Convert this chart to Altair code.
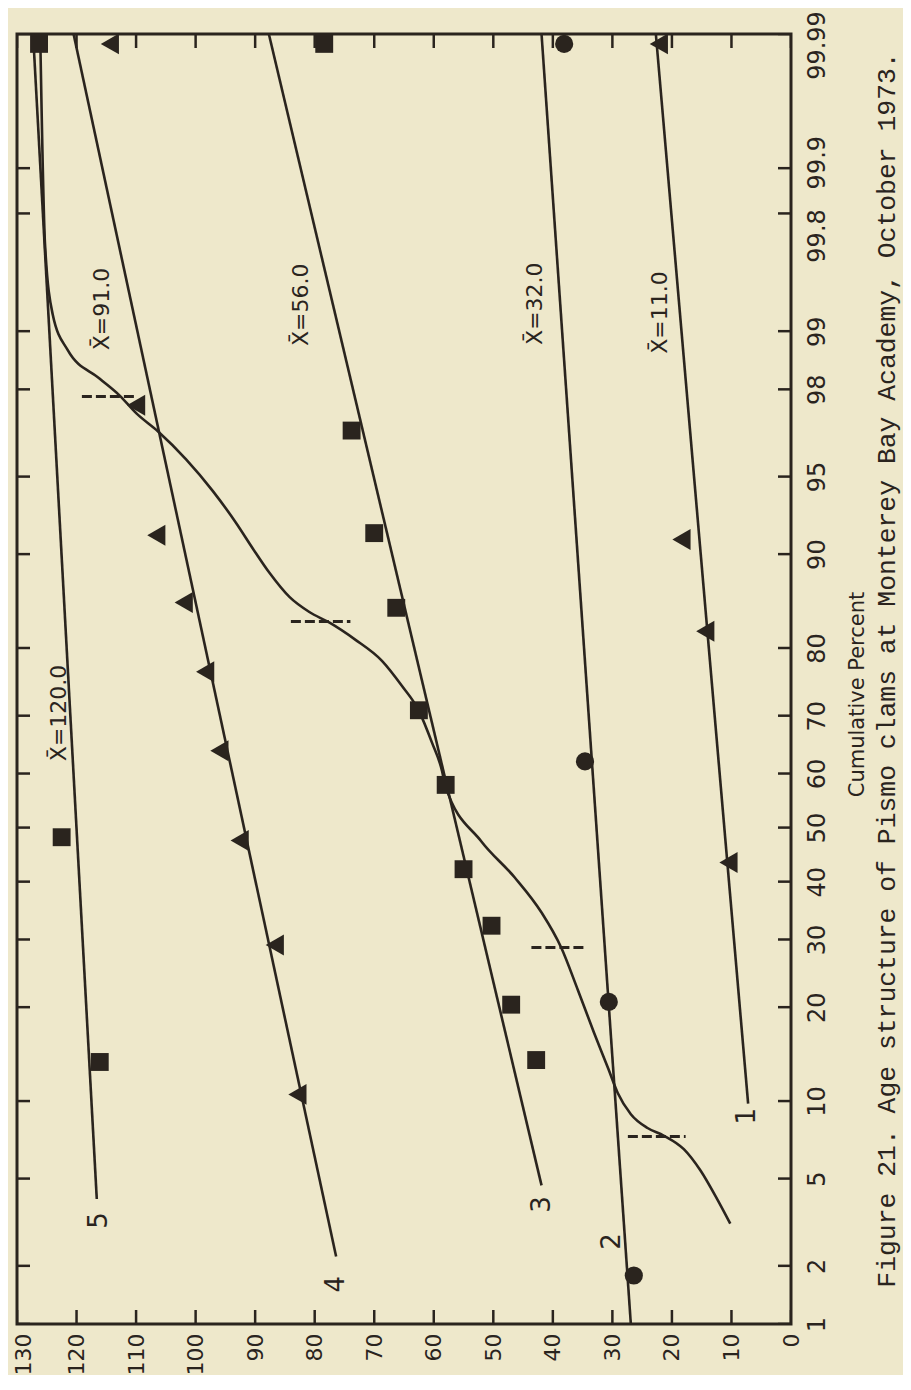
import altair as alt
import pandas as pd
from statistics import NormalDist

ND = NormalDist()


def probit(p):
    return ND.inv_cdf(p / 100.0)


INK = "#2a241e"
PAPER = "#eee8cb"

# ---------------- axis tick values ----------------
LENGTH_TICKS = [0, 10, 20, 30, 40, 50, 60, 70, 80, 90, 100, 110, 120, 130]
PERCENT_TICKS = [1, 2, 5, 10, 20, 30, 40, 50, 60, 70, 80, 90, 95, 98, 99, 99.8, 99.9, 99.99]

# ---------------- observed points per age class ----------------
C1_LEN = [22.2, 18.4, 14.4, 10.5]
C1_PCT = [99.988, 91.15, 82.12, 43.5]
C2_LEN = [38.1, 34.6, 30.6, 26.4]
C2_PCT = [99.988, 62.17, 20.7, 1.79]
C3_LEN = [78.4, 73.8, 70.0, 66.3, 62.5, 58.0, 55.0, 50.3, 47.0, 42.8]
C3_PCT = [99.988, 96.86, 91.62, 84.85, 70.88, 57.93, 42.27, 32.28, 20.33, 13.8]
C4_LEN = [114.4, 110.0, 106.6, 102.0, 98.4, 96.0, 92.6, 86.7, 82.9]
C4_PCT = [99.988, 97.61, 91.47, 85.43, 76.73, 64.06, 47.6, 29.12, 10.56]
C5_LEN = [126.3, 122.5, 116.1]
C5_PCT = [99.988, 48.2, 13.6]

# ---------------- fitted straight lines (two ends each) ----------------
FIT_CLASS = ["1", "1", "2", "2", "3", "3", "4", "4", "5", "5"]
FIT_LEN = [22.7, 7.2, 41.9, 26.9, 87.7, 41.9, 120.5, 76.4, 127.3, 116.6]
FIT_PCT = [99.99, 9.79, 99.99, 1.0, 99.99, 4.68, 99.99, 2.22, 99.99, 4.09]

# ---------------- overall cumulative curve ----------------
CURVE_LEN = [126.1, 125.3, 124.0, 121.5, 116.1, 112.8, 109.9, 106.3, 101.6, 97.1,
             93.2, 90.4, 87.6, 84.2, 80.9, 77.5, 73.2, 68.7, 65.3, 62.5,
             60.3, 58.6, 58.1, 52.0, 46.4, 41.9, 38.6, 35.8, 33.1, 30.7,
             29.1, 26.9, 24.1, 21.4, 18.0, 15.2, 12.4, 10.2]
CURVE_PCT = [99.99, 99.69, 99.19, 98.74, 98.23, 97.86, 97.38, 96.83, 95.78, 94.26,
             92.33, 90.46, 88.38, 85.99, 84.38, 83.15, 81.08, 78.27, 74.60, 70.79,
             65.47, 60.41, 57.89, 47.41, 40.75, 34.53, 28.70, 22.33, 16.85, 12.94,
             10.68, 8.96, 7.96, 7.45, 6.59, 5.40, 4.08, 3.17]

# ---------------- dashed separation marks ----------------
DASH_LEN1 = [119.1, 84.0, 43.6, 27.4]
DASH_LEN2 = [110.3, 74.0, 34.4, 17.7]
DASH_PCT = [97.83, 83.3, 28.7, 7.39]

# ---------------- labels ----------------
MEAN_TEXT = ["X\u0304=11.0", "X\u0304=32.0", "X\u0304=56.0", "X\u0304=91.0", "X\u0304=120.0"]
MEAN_LEN = [20.9, 41.8, 81.2, 114.6, 121.8]
MEAN_PCT = [99.21, 99.296, 99.286, 99.245, 70.45]

NUM_TEXT = ["1", "2", "3", "4", "5"]
NUM_LEN = [7.35, 30.1, 41.9, 76.5, 116.3]
NUM_PCT = [8.80, 2.62, 3.87, 1.62, 3.28]

CAPTION = "Figure 21. Age structure of Pismo clams at Monterey Bay Academy, October 1973."

# ---------------- tables ----------------
rows = []
for cls, lens, pcts, shape, size in [
    ("1", C1_LEN, C1_PCT, "triangle-left", 440),
    ("2", C2_LEN, C2_PCT, "circle", 330),
    ("3", C3_LEN, C3_PCT, "square", 320),
    ("4", C4_LEN, C4_PCT, "triangle-left", 440),
    ("5", C5_LEN, C5_PCT, "square", 320),
]:
    for l, p in zip(lens, pcts):
        rows.append({"cls": cls, "L": l, "pct": p, "z": probit(p), "shape": shape, "size": size})
markers = pd.DataFrame(rows)

fits = pd.DataFrame({"cls": FIT_CLASS, "L": FIT_LEN, "pct": FIT_PCT})
fits["z"] = fits["pct"].map(probit)

curve = pd.DataFrame({"L": CURVE_LEN, "pct": CURVE_PCT})
curve["z"] = curve["pct"].map(probit)

dashes = pd.DataFrame({"L1": DASH_LEN1, "L2": DASH_LEN2, "pct": DASH_PCT})
dashes["z"] = dashes["pct"].map(probit)

means = pd.DataFrame({"t": MEAN_TEXT, "L": MEAN_LEN, "pct": MEAN_PCT})
means["z"] = means["pct"].map(probit)

nums = pd.DataFrame({"t": NUM_TEXT, "L": NUM_LEN, "pct": NUM_PCT})
nums["z"] = nums["pct"].map(probit)

cap = pd.DataFrame({"t": [CAPTION]})

Z_LO, Z_HI = probit(1), probit(99.99)
len_ticks = pd.DataFrame({"L": LENGTH_TICKS})
len_ticks_top = len_ticks.assign(z=Z_HI)
len_ticks_bot = len_ticks.assign(z=Z_LO)
pct_ticks = pd.DataFrame({"z": [probit(p) for p in PERCENT_TICKS]})
pct_ticks_left = pct_ticks.assign(L=130)
pct_ticks_right = pct_ticks.assign(L=0)

# ---------------- scales / axes ----------------
W, H = 774, 1290
xs = alt.Scale(domain=[0, 130], reverse=True, nice=False, zero=False)
ys = alt.Scale(domain=[Z_LO, Z_HI], nice=False, zero=False)
Y_TICKS = [probit(p) for p in PERCENT_TICKS]

x_label_axis = alt.Axis(
    orient="bottom", values=LENGTH_TICKS, ticks=False, domain=False, grid=False,
    labelAngle=270, labelAlign="right", labelBaseline="middle", labelPadding=9,
    labelOffset={"condition": {"test": "datum.value >= 125", "value": 6}, "value": 0},
    labelFont="DejaVu Sans", labelFontSize=22, labelColor=INK,
    labelOverlap=False, labelFlush=False, title=None,
)
y_label_axis = alt.Axis(
    orient="right", values=Y_TICKS, ticks=False, domain=False, grid=False,
    labelExpr="format(cumulativeNormal(datum.value) * 100, '.4~f')",
    labelAngle=270, labelAlign="center", labelBaseline="top", labelPadding=14,
    labelOffset={"condition": [
        {"test": "datum.value > 2.8 && datum.value < 2.95", "value": 22},
        {"test": "datum.value > 3.0 && datum.value < 3.2", "value": -6},
        {"test": "datum.value > 3.5", "value": 11},
    ], "value": 0},
    labelFont="DejaVu Sans", labelFontSize=24, labelColor=INK,
    labelOverlap=False, labelFlush=False,
    title="Cumulative Percent", titleAngle=270, titleAlign="center", titleBaseline="top",
    titleX=55, titleY=660, titleFont="DejaVu Sans", titleFontSize=21,
    titleFontWeight="normal", titleColor=INK,
)


def X(axis=None, field="L"):
    return alt.X(f"{field}:Q", scale=xs, axis=axis)


def Y(axis=None):
    return alt.Y("z:Q", scale=ys, axis=axis)


curve_layer = alt.Chart(curve).mark_line(
    color=INK, strokeWidth=2.6, interpolate="monotone"
).encode(x=X(x_label_axis), y=Y(y_label_axis),
         order=alt.Order("pct:Q", sort="descending"))

# inward tick marks on all four sides of the frame (clipped to the plot)
tick_style = dict(color=INK, thickness=2.5, clip=True, opacity=1)
ticks_top = alt.Chart(len_ticks_top).mark_tick(orient="vertical", size=28, **tick_style).encode(x=X(), y=Y())
ticks_bot = alt.Chart(len_ticks_bot).mark_tick(orient="vertical", size=28, **tick_style).encode(x=X(), y=Y())
ticks_left = alt.Chart(pct_ticks_left).mark_tick(orient="horizontal", size=26, **tick_style).encode(x=X(), y=Y())
ticks_right = alt.Chart(pct_ticks_right).mark_tick(orient="horizontal", size=26, **tick_style).encode(x=X(), y=Y())

fit_layer = alt.Chart(fits).mark_line(color=INK, strokeWidth=2.6).encode(
    x=X(), y=Y(), detail="cls:N", order="pct:Q"
)

dash_layer = alt.Chart(dashes).mark_rule(
    color=INK, strokeWidth=3, strokeDash=[10, 4]
).encode(x=X(field="L1"), x2="L2:Q", y=Y())

marker_layer = alt.Chart(markers).mark_point(
    filled=True, color=INK, opacity=1
).encode(
    x=X(), y=Y(),
    shape=alt.Shape("shape:N", scale=None),
    size=alt.Size("size:Q", scale=None),
)

mean_layer = alt.Chart(means).mark_text(
    angle=270, align="center", baseline="alphabetic", font="DejaVu Sans",
    fontSize=22, color=INK
).encode(x=X(), y=Y(), text="t:N")

num_layer = alt.Chart(nums).mark_text(
    angle=270, align="center", baseline="middle", font="DejaVu Sans",
    fontSize=26, color=INK
).encode(x=X(), y=Y(), text="t:N")

caption_layer = alt.Chart(cap).mark_text(
    angle=270, align="center", baseline="alphabetic", font="Liberation Mono",
    fontSize=26.4, color=INK
).encode(x=alt.value(878), y=alt.value(636), text="t:N")

chart = alt.layer(
    curve_layer, ticks_top, ticks_bot, ticks_left, ticks_right,
    fit_layer, dash_layer, marker_layer, mean_layer, num_layer, caption_layer,
).resolve_axis(x="independent", y="independent").properties(
    width=W, height=H, autosize="none",
    padding={"left": 9, "top": 26, "right": 112, "bottom": 51},
).configure(background=PAPER).configure_view(stroke=INK, strokeWidth=3)

chart.save("out.html", embed_options={"renderer": "svg", "actions": False})
